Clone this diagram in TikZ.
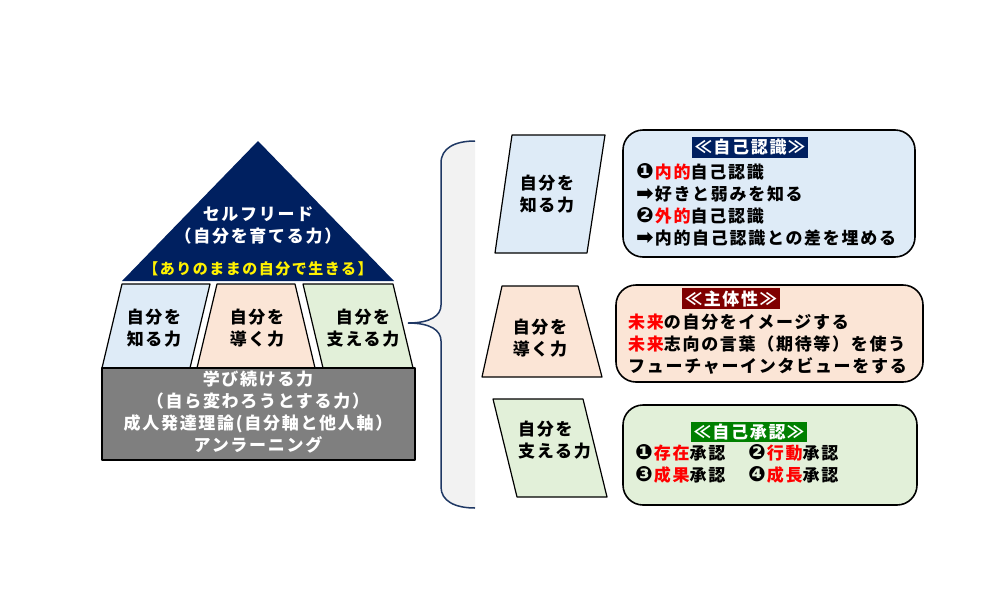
\documentclass[tikz,border=0pt]{standalone}
\usepackage{fontspec}
\usepackage{xcolor}
\newfontfamily\jp[LetterSpace=10]{Noto Sans CJK JP}
\newfontfamily\dingfont{DejaVu Sans}
\newcommand\dg[1]{{\dingfont\bfseries\fontsize{21}{22}\selectfont #1}\hspace{1pt}}
\usetikzlibrary{positioning}

\definecolor{roofnavy}{HTML}{002060}
\definecolor{skyblue}{HTML}{DEEBF7}
\definecolor{peach}{HTML}{FBE5D6}
\definecolor{leaf}{HTML}{E2F0D9}
\definecolor{basegray}{HTML}{7F7F7F}
\definecolor{bracegray}{HTML}{F2F2F2}
\definecolor{bracenavy}{HTML}{1F3864}
\definecolor{maroon}{HTML}{7F0000}
\definecolor{tagreen}{HTML}{008000}

\begin{document}
\begin{tikzpicture}[x=1pt,y=-1pt,
    every node/.style={font=\jp\bfseries\fontsize{17}{22}\selectfont,inner sep=0pt},
    block/.style={draw=black,line width=1.2pt,line join=round},
    infobox/.style={draw=black,line width=1.6pt,rounded corners=20pt},
    tag/.style={fill=#1,text=white,inner xsep=3pt,inner ysep=2pt},
    txt/.style={align=center},
    list/.style={align=left,anchor=west}]

  \useasboundingbox (0,0) rectangle (1000,600);

  % pyramid
  \fill[roofnavy] (258,141) -- (394,281) -- (122,281) -- cycle;
  \draw[block,fill=skyblue] (122,284) -- (210,284) -- (190,368) -- (102,368) -- cycle;
  \draw[block,fill=peach] (217,284) -- (295,284) -- (315,368) -- (197,368) -- cycle;
  \draw[block,fill=leaf] (303,284) -- (393,284) -- (413,368) -- (323,368) -- cycle;
  \draw[block,fill=basegray,line width=1.6pt] (102,368) rectangle (415,460);

  \node[txt,text=white] (roof) at (258,225) {セルフリード\\（自分を育てる力）};
  \node[text=yellow,font=\jp\bfseries\fontsize{15}{20}\selectfont] (motto) at (258,269) {【ありのままの自分で生きる】};
  \node[txt] (know) at (154,328) {自分を\\知る力};
  \node[txt] (lead) at (257,328) {自分を\\導く力};
  \node[txt] (support) at (363,328) {自分を\\支える力};
  \node[txt,text=white] (base) at (258,412) {学び続ける力\\（自ら変わろうとする力）\\成人発達理論(自分軸と他人軸）\\アンラーニング};

  % brace
  \coordinate (tip) at (408,323);
  \draw[fill=bracegray,draw=bracenavy,line width=1.5pt]
    (475,141) .. controls (455,141) and (441,148) .. (441,163) -- (441,305)
    .. controls (441,316) and (430,323) .. (tip)
    .. controls (430,323) and (441,330) .. (441,341) -- (441,487)
    .. controls (441,501) and (455,508) .. (475,508);

  % right column
  \draw[block,fill=skyblue] (512,135) -- (605,135) -- (587,253) -- (495,253) -- cycle;
  \draw[block,fill=peach] (502,286) -- (578,286) -- (602,377) -- (482,377) -- cycle;
  \draw[block,fill=leaf] (493,399) -- (583,399) -- (607,497) -- (517,497) -- cycle;

  \node[txt] (know side) at (547,194) {自分を\\知る力};
  \node[txt] (lead side) at (540,338) {自分を\\導く力};
  \node[list] (support side) at (518,440) {自分を\\支える力};

  \draw[infobox,fill=skyblue] (623,130) rectangle (915,257);
  \draw[infobox,fill=peach] (616,285) rectangle (923,382);
  \draw[infobox,fill=leaf] (623,405) rectangle (917,505);

  \node[tag=roofnavy] (know title) at (750,147.5) {≪自己認識≫};
  \node[list] (know list) at (636,205) {\dg{❶}{\color{red}内的}自己認識\\\dg{➡}好きと弱みを知る\\\dg{❷}{\color{red}外的}自己認識\\\dg{➡}内的自己認識との差を埋める};

  \node[tag=maroon] (lead title) at (731,298.5) {≪主体性≫};
  \node[list] (lead list) at (628,344) {{\color{red}未来}の自分をイメージする\\{\color{red}未来}志向の言葉（期待等）を使う\\フューチャーインタビューをする};

  \node[tag=tagreen] (support title) at (749,432) {≪自己承認≫};
  \node[list] (support left) at (635,464) {\dg{❶}{\color{red}存在}承認\\\dg{❸}{\color{red}成果}承認};
  \node[list] (support right) at (748,464) {\dg{❷}{\color{red}行動}承認\\\dg{❹}{\color{red}成長}承認};
\end{tikzpicture}
\end{document}
